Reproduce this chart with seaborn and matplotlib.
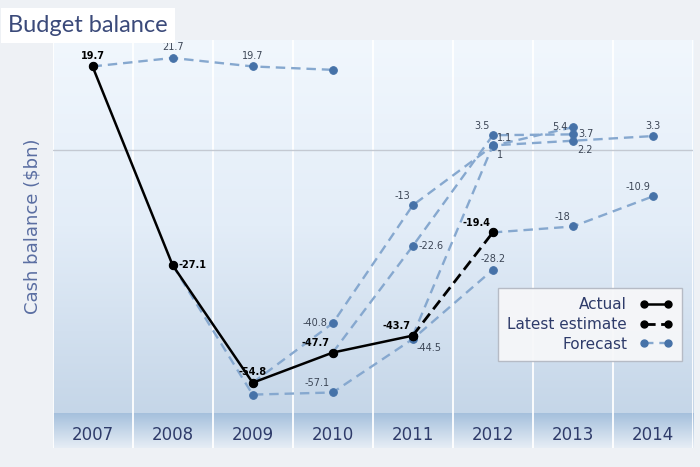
import numpy as np
import pandas as pd
import matplotlib
matplotlib.use("Agg")
import matplotlib.pyplot as plt
import seaborn as sns
from matplotlib.colors import LinearSegmentedColormap
from matplotlib.lines import Line2D

# Financial years (labelled by starting year)
years = [2007, 2008, 2009, 2010, 2011, 2012, 2013, 2014]
year_labels = [str(y) for y in years]

# Actual cash balance ($bn)
actual_years = [2007, 2008, 2009, 2010, 2011]
actual_vals = [19.7, -27.1, -54.8, -47.7, -43.7]

# Latest estimate
latest_years = [2011, 2012]
latest_vals = [-43.7, -19.4]

# Budget forecasts, each line starts from the actual of its year
fc2008_years = [2007, 2008, 2009, 2010]
fc2008_vals = [19.7, 21.7, 19.7, 18.9]
fc2009_years = [2008, 2009, 2010, 2011, 2012]
fc2009_vals = [-27.1, -57.6, -57.1, -44.5, -28.2]
fc2010_years = [2009, 2010, 2011, 2012, 2013]
fc2010_vals = [-54.8, -40.8, -13.0, 1.0, 5.4]
fc2011_years = [2010, 2011, 2012, 2013]
fc2011_vals = [-47.7, -22.6, 3.5, 3.7]
fc2012_years = [2011, 2012, 2013, 2014]
fc2012_vals = [-43.7, 1.1, 2.2, 3.3]
fc2013_years = [2012, 2013, 2014]
fc2013_vals = [-19.4, -18.0, -10.9]

FC_LINE = "#86a8cf"
FC_DOT = "#4672a8"
NAVY = "#2e3b6a"

forecasts = {
    "2008": (fc2008_years, fc2008_vals),
    "2009": (fc2009_years, fc2009_vals),
    "2010": (fc2010_years, fc2010_vals),
    "2011": (fc2011_years, fc2011_vals),
    "2012": (fc2012_years, fc2012_vals),
    "2013": (fc2013_years, fc2013_vals),
}
rows = []
for budget, (xs, vs) in forecasts.items():
    for x, v in zip(xs, vs):
        rows.append({"budget": budget, "year": x, "value": v})
fc = pd.DataFrame(rows)

# label placement for each labelled point: (dx, dy, ha, va) in points
UL = (-2, 3, "right", "bottom")
UP = (0, 4, "center", "bottom")
RT = (4, 0, "left", "center")
DR = (3, -3, "left", "top")
UR = (3, 2, "left", "bottom")
LF = (-4, 0, "right", "center")
fc_label_pos = {
    "2008": [None, UP, UP, None],
    "2009": [None, None, UL, DR, UP],
    "2010": [None, LF, UL, DR, LF],
    "2011": [None, RT, UL, RT],
    "2012": [None, UR, DR, UP],
    "2013": [None, UL, UL],
}
actual_label_pos = [UP, RT, UP, UL, UL]

sns.set_theme(style="white")
plt.rcParams["font.family"] = ["DejaVu Sans"]

fig = plt.figure(figsize=(7, 4.67), dpi=100, facecolor="#eef1f5")

# blue strip under the plot for the year labels
strip = fig.add_axes([0.075, 0.04, 0.915, 0.075])
sgrad = np.linspace(0, 1, 64).reshape(-1, 1)
strip.imshow(sgrad, extent=[0, 1, 0, 1], aspect="auto", origin="lower",
             cmap=LinearSegmentedColormap.from_list("s", ["#e6edf5", "#a3bfdc"]))
strip.set_xlim(0, 1)
strip.set_ylim(0, 1)
strip.axis("off")

ax = fig.add_axes([0.075, 0.115, 0.915, 0.80])
grad = np.linspace(0, 1, 256).reshape(-1, 1)
ax.imshow(grad, extent=[0, 1, 0, 1], transform=ax.transAxes, aspect="auto",
          origin="lower", zorder=0,
          cmap=LinearSegmentedColormap.from_list("bg", ["#c5d6e8", "#e3edf8", "#f1f7fd"]))

# band separators
for b in np.arange(years[0] - 0.5, years[-1] + 1.0, 1.0):
    ax.axvline(b, color="white", lw=1.3, zorder=1)
    strip.axvline((b - (years[0] - 0.5)) / len(years), color="white", lw=1.3)
ax.axhline(0, color="#c4c9d2", lw=1.0, zorder=1)

# forecasts
sns.lineplot(data=fc, x="year", y="value", units="budget", estimator=None,
             color=FC_LINE, lw=1.7, linestyle=(0, (4, 2.5)), marker="o",
             markersize=5.5, markerfacecolor=FC_DOT, markeredgecolor=FC_DOT,
             ax=ax, zorder=2, legend=False)

# latest estimate and actual
sns.lineplot(x=latest_years, y=latest_vals, color="black", lw=2,
             linestyle=(0, (4, 2)), marker="o", markersize=6,
             markeredgecolor="black", ax=ax, zorder=4)
sns.lineplot(x=actual_years, y=actual_vals, color="black", lw=1.8,
             marker="o", markersize=6, markeredgecolor="black", ax=ax, zorder=5)

for budget, (xs, vs) in forecasts.items():
    for x, v, pos in zip(xs, vs, fc_label_pos[budget]):
        if pos is None:
            continue
        dx, dy, ha, va = pos
        ax.annotate(f"{v:g}", (x, v), xytext=(dx, dy), textcoords="offset points",
                    ha=ha, va=va, fontsize=7, color="#3c4656", zorder=6)

for x, v, pos in zip(actual_years, actual_vals, actual_label_pos):
    dx, dy, ha, va = pos
    ax.annotate(f"{v:g}", (x, v), xytext=(dx, dy), textcoords="offset points",
                ha=ha, va=va, fontsize=7, fontweight="bold", color="black", zorder=6)
ax.annotate(f"{latest_vals[1]:g}", (latest_years[1], latest_vals[1]), xytext=(-2, 3),
            textcoords="offset points", ha="right", va="bottom", fontsize=7,
            fontweight="bold", color="black", zorder=6)

ax.set_xlim(years[0] - 0.5, years[-1] + 0.5)
ax.set_ylim(-62, 26)
ax.set_xticks(years)
ax.set_xticklabels(year_labels, fontsize=12, color=NAVY)
ax.tick_params(axis="x", length=0, pad=9)
ax.set_yticks([])
ax.set_xlabel("")
ax.set_ylabel("Cash balance ($bn)", fontsize=13, color="#5a6ea2", labelpad=8)
for s in ax.spines.values():
    s.set_visible(False)

handles = [
    Line2D([], [], color="black", lw=1.8, marker="o", markersize=5),
    Line2D([], [], color="black", lw=2, linestyle=(0, (4, 2)), marker="o", markersize=5),
    Line2D([], [], color=FC_LINE, lw=1.7, linestyle=(0, (4, 2.5)), marker="o",
           markersize=5, markerfacecolor=FC_DOT, markeredgecolor=FC_DOT),
]
leg = ax.legend(handles, ["Actual", "Latest estimate", "Forecast"], loc="lower right",
                bbox_to_anchor=(0.995, 0.12), markerfirst=False, numpoints=2,
                fontsize=11, labelcolor=NAVY, frameon=True, fancybox=False,
                framealpha=0.95, edgecolor="#b4b9c3", facecolor="#f6f7f9",
                handlelength=2.2, borderpad=0.6, labelspacing=0.3)
leg.set_zorder(7)

fig.text(0.012, 0.945, "Budget balance", fontsize=17, color="#3b4a7a",
         family=["Lato", "DejaVu Sans"], va="center",
         bbox=dict(boxstyle="square,pad=0.3", facecolor="white", edgecolor="none"))

fig.savefig("out.png", dpi=100, facecolor=fig.get_facecolor())
